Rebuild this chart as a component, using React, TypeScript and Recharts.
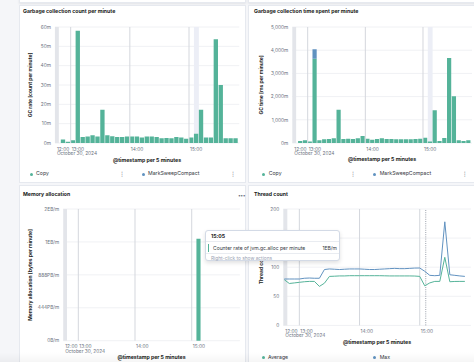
import React from "react";
import { BarChart, Bar, LineChart, Line, XAxis, YAxis, CartesianGrid, ReferenceArea, ReferenceLine } from "recharts";

// 5 minute buckets, 12:45 .. 15:45
const TIMES = [
  "12:45", "12:50", "12:55", "13:00", "13:05", "13:10", "13:15", "13:20", "13:25", "13:30",
  "13:35", "13:40", "13:45", "13:50", "13:55", "14:00", "14:05", "14:10", "14:15", "14:20",
  "14:25", "14:30", "14:35", "14:40", "14:45", "14:50", "14:55", "15:00", "15:05", "15:10",
  "15:15", "15:20", "15:25", "15:30", "15:35", "15:40", "15:45",
];
const HOUR_TICKS = [45, 60, 120, 180];
const HOUR_LABELS = ["12:00", "13:00", "14:00", "15:00"];
const DATE_LABEL = "October 30, 2024";

const GC_COUNT_COPY = [
  null, 1.8, 0.6, 1.4, 58, 3.1, 3.4, 4, 3.4, 17.2,
  4, 3.5, 3.1, 3.1, 3.4, 3.4, 3.4, 2.8, 3.4, 3.4,
  3.1, 2.4, 2.6, 2.4, 3.1, 2.8, 2.2, 2.8, 4.8, 17.2,
  2.8, 2.8, 53.7, 30, 2.4, 2.4, 2.4,
];
const GC_COUNT_MSC = [
  null, 0, 0, 0, 0, 0, 0, 0, 0, 0,
  0, 0, 0, 0, 0, 0, 0, 0, 0, 0,
  0, 0, 0, 0, 0, 0, 0, 0, 0, 0,
  0, 0, 0, 0, 0, 0, 0,
];
const GC_COUNT_TICKS = [0, 10, 20, 30, 40, 50, 60];

const GC_TIME_COPY = [
  null, 90, 115, 70, 3630, 115, 160, 170, 200, 1437,
  170, 185, 170, 200, 300, 185, 145, 170, 200, 170,
  170, 160, 160, 160, 160, 170, 185, 230, 70, 1408,
  86, 215, 3665, 2010, 115, 86, 115,
];
const GC_TIME_MSC = [
  null, 0, 0, 0, 410, 0, 0, 0, 0, 0,
  0, 0, 0, 0, 0, 0, 0, 0, 0, 0,
  0, 0, 0, 0, 0, 0, 0, 0, 0, 0,
  0, 0, 0, 0, 0, 0, 0,
];
const GC_TIME_TICKS = [0, 1000, 2000, 3000, 4000, 5000];

const ALLOC = [
  null, 0, 0, 0, 0, 0, 0, 0, 0, 0,
  0, 0, 0, 0, 0, 0, 0, 0, 0, 0,
  0, 0, 0, 0, 0, 0, 0, 0, 1.55e18, 0,
  0, 0, 0, 0, 0, 0, 0,
];
const ALLOC_TICKS = [0, 5e17, 1e18, 1.5e18, 2e18];
const ALLOC_TICK_LABELS = ["0B/m", "444PB/m", "888PB/m", "1EB/m", "2EB/m"];

const THREAD_AVG = [
  78.5, 72, 73, 74, 75, 75.6, 75.6, 67, 72.5, 84.2,
  84.5, 85, 85, 85.4, 85.4, 85.4, 85.4, 85.4, 85.4, 85.4,
  85.2, 85, 85, 85, 85, 85, 84.8, 84.2, 68, 73,
  75.6, 75.6, 117, 75, 75.5, 75.6, 75.6,
];
const THREAD_MAX = [
  79.7, 79.7, 79.7, 79.7, 81, 81.4, 81, 81, 96, 97,
  96.5, 96, 96.5, 97, 97, 97, 96.5, 96, 96, 96.5,
  97, 97.5, 98, 97.5, 97.5, 98, 98.5, 98.6, 93, 86,
  85.4, 86, 178, 87, 86, 85, 84.2,
];
const THREAD_TICKS = [0, 50, 100, 150, 200];

const GREEN = "#54b399";
const BLUE = "#6092c0";
const FONT = "Inter, 'Noto Sans', sans-serif";
const TEXT = "#1a1c21";
const SUBDUED = "#69707d";
const X_DOMAIN = [44, 231];

const toMin = (t: string) => {
  const [h, m] = t.split(":").map(Number);
  return (h - 12) * 60 + m;
};

const countData = TIMES.map((t, i) => ({ x: toMin(t) + 2.5, copy: GC_COUNT_COPY[i], msc: GC_COUNT_MSC[i] }));
const timeData = TIMES.map((t, i) => ({ x: toMin(t) + 2.5, copy: GC_TIME_COPY[i], msc: GC_TIME_MSC[i] }));
const allocData = TIMES.map((t, i) => ({ x: toMin(t) + 2.5, alloc: ALLOC[i] }));
const threadData = TIMES.map((t, i) => ({ x: toMin(t), avg: THREAD_AVG[i], max: THREAD_MAX[i] }));

type Frame = { panelLeft: number; panelRight: number; plotLeft: number; plotRight: number; plotTop: number; plotBottom: number };

const P1: Frame = { panelLeft: 20, panelRight: 245, plotLeft: 54.9, plotRight: 239.3, plotTop: 27, plotBottom: 143 };
const P2: Frame = { panelLeft: 248, panelRight: 474, plotLeft: 292.3, plotRight: 472, plotTop: 26.7, plotBottom: 142.7 };
const P3: Frame = { panelLeft: 20, panelRight: 245, plotLeft: 63.2, plotRight: 239.9, plotTop: 209.3, plotBottom: 341 };
const P4: Frame = { panelLeft: 248, panelRight: 474, plotLeft: 283.3, plotRight: 470.9, plotTop: 209.3, plotBottom: 325.7 };

function geom(f: Frame) {
  const top = f.plotTop - 6;
  return {
    left: f.panelLeft,
    top,
    width: f.panelRight - f.panelLeft,
    height: f.plotBottom + 14 - top,
    margin: { top: 6, right: f.panelRight - f.plotRight, bottom: 0, left: 0 },
    yWidth: f.plotLeft - f.panelLeft,
    barSize: ((f.plotRight - f.plotLeft) / (X_DOMAIN[1] - X_DOMAIN[0])) * 5 - 0.6,
  };
}

const TimeTick = (props: any) => {
  const { x, y, payload } = props;
  const i = HOUR_TICKS.indexOf(payload.value);
  return (
    <g>
      <text x={x + 1} y={y + 5.5} fontSize={4.8} fill={SUBDUED} fontFamily={FONT}>{HOUR_LABELS[i]}</text>
      {i === 0 && <text x={x + 1} y={y + 10} fontSize={4.8} fill={SUBDUED} fontFamily={FONT}>{DATE_LABEL}</text>}
    </g>
  );
};

const yTick = { fontSize: 4.8, fill: SUBDUED, fontFamily: FONT };

function TimeBackdrop() {
  return [
    <ReferenceArea key="p" x1={44} x2={48} fill="#e3e5ea" fillOpacity={1} stroke="none" />,
    ...[60, 120, 180].map(v => <ReferenceLine key={v} x={v} stroke="#d4d7dd" strokeWidth={1} />),
  ];
}

function Txt({ x, y, children, anchor = "start", style }: any) {
  const tr = anchor === "middle" ? "translate(-50%,-50%)" : anchor === "end" ? "translate(-100%,-50%)" : "translateY(-50%)";
  return (
    <div style={{ position: "absolute", left: x, top: y, transform: tr, whiteSpace: "nowrap", lineHeight: 1, fontFamily: FONT, ...style }}>
      {children}
    </div>
  );
}

function YTitle({ x, y, children }: any) {
  return (
    <div style={{ position: "absolute", left: x, top: y, transform: "translate(-50%,-50%) rotate(-90deg)", whiteSpace: "nowrap", lineHeight: 1, fontFamily: FONT, fontSize: 5, fontWeight: 700, color: TEXT }}>
      {children}
    </div>
  );
}

function LegendItem({ x, y, color, name }: any) {
  return (
    <>
      <div style={{ position: "absolute", left: x - 1.5, top: y - 1.5, width: 3, height: 3, borderRadius: 2, background: color }} />
      <Txt x={x + 5} y={y} style={{ fontSize: 5.2, color: "#343741" }}>{name}</Txt>
    </>
  );
}

const Kebab = ({ x, y }: any) => <Txt x={x} y={y} anchor="middle" style={{ fontSize: 6, color: "#343741", fontFamily: "DejaVu Sans" }}>⋮</Txt>;

const titleStyle = { fontSize: 5.2, fontWeight: 700, color: TEXT };
const axisTitleStyle = { fontSize: 5.2, fontWeight: 700, color: TEXT };

export default function App() {
  const g1 = geom(P1), g2 = geom(P2), g3 = geom(P3), g4 = geom(P4);
  const panel = (l: number, t: number, r: number, b: number) => ({
    position: "absolute" as const, left: l, top: t, width: r - l, height: b - t, background: "#fff", border: "1px solid #e6e9ef", boxSizing: "border-box" as const,
  });

  return (
    <div style={{ position: "fixed", left: 0, top: 0, width: 474, height: 362, overflow: "hidden", background: "#f5f6f9", fontFamily: FONT }}>
      {/* previous row */}
      <div style={{ ...panel(19, -20, 246, 3), boxShadow: "0 1px 2px rgba(0,0,0,0.08)" }} />
      <div style={{ ...panel(248, -20, 480, 3), boxShadow: "0 1px 2px rgba(0,0,0,0.08)" }} />
      <div style={panel(19, 5, 246, 183)} />
      <div style={panel(248, 5, 480, 183)} />
      <div style={panel(19, 185, 246, 380)} />
      <div style={panel(248, 185, 480, 380)} />

      {/* titles */}
      <Txt x={23} y={12} style={titleStyle}>Garbage collection count per minute</Txt>
      <Txt x={254} y={12} style={titleStyle}>Garbage collection time spent per minute</Txt>
      <Txt x={23} y={195} style={titleStyle}>Memory allocation</Txt>
      <Txt x={254} y={195} style={titleStyle}>Thread count</Txt>
      <Txt x={241.5} y={195} anchor="middle" style={{ fontSize: 5, color: "#69707d", letterSpacing: -0.5 }}>•••</Txt>

      {/* chart 1 */}
      <div style={{ position: "absolute", left: g1.left, top: g1.top }}>
        <BarChart width={g1.width} height={g1.height} data={countData} margin={g1.margin}>
          <CartesianGrid vertical={false} stroke="#f0f1f4" />
          {TimeBackdrop()}
          <ReferenceArea x1={185} x2={190} fill="#eceef6" fillOpacity={1} stroke="none" />
          <XAxis type="number" dataKey="x" domain={X_DOMAIN} ticks={HOUR_TICKS} interval={0} height={14} tickSize={0} axisLine={false} tickLine={false} tick={TimeTick} allowDataOverflow />
          <YAxis type="number" domain={[0, 60]} ticks={GC_COUNT_TICKS} interval={0} width={g1.yWidth} tickSize={0} tickMargin={4} axisLine={false} tickLine={false} tick={yTick} tickFormatter={(v: number) => `${v}m`} />
          <Bar dataKey="copy" stackId="a" fill={GREEN} barSize={g1.barSize} isAnimationActive={false} />
          <Bar dataKey="msc" stackId="a" fill={BLUE} barSize={g1.barSize} isAnimationActive={false} />
        </BarChart>
      </div>
      <YTitle x={30} y={85}>GC rate [count per minute]</YTitle>
      <Txt x={147} y={160.7} anchor="middle" style={axisTitleStyle}>@timestamp per 5 minutes</Txt>
      <LegendItem x={31} y={174} color={GREEN} name="Copy" />
      <Kebab x={122} y={174} />
      <LegendItem x={143} y={174} color={BLUE} name="MarkSweepCompact" />
      <Kebab x={233} y={174} />

      {/* chart 2 */}
      <div style={{ position: "absolute", left: g2.left, top: g2.top }}>
        <BarChart width={g2.width} height={g2.height} data={timeData} margin={g2.margin}>
          <CartesianGrid vertical={false} stroke="#f0f1f4" />
          {TimeBackdrop()}
          <ReferenceArea x1={185} x2={190} fill="#eceef6" fillOpacity={1} stroke="none" />
          <XAxis type="number" dataKey="x" domain={X_DOMAIN} ticks={HOUR_TICKS} interval={0} height={14} tickSize={0} axisLine={false} tickLine={false} tick={TimeTick} allowDataOverflow />
          <YAxis type="number" domain={[0, 5000]} ticks={GC_TIME_TICKS} interval={0} width={g2.yWidth} tickSize={0} tickMargin={4} axisLine={false} tickLine={false} tick={yTick} tickFormatter={(v: number) => `${v.toLocaleString("en-US")}m`} />
          <Bar dataKey="copy" stackId="a" fill={GREEN} barSize={g2.barSize} isAnimationActive={false} />
          <Bar dataKey="msc" stackId="a" fill={BLUE} barSize={g2.barSize} isAnimationActive={false} />
        </BarChart>
      </div>
      <YTitle x={261} y={84.7}>GC time [ms per minute]</YTitle>
      <Txt x={382} y={160} anchor="middle" style={axisTitleStyle}>@timestamp per 5 minutes</Txt>
      <LegendItem x={263.7} y={174.3} color={GREEN} name="Copy" />
      <Kebab x={353} y={174.3} />
      <LegendItem x={374.7} y={174.3} color={BLUE} name="MarkSweepCompact" />
      <Kebab x={464.7} y={174.3} />

      {/* chart 3 */}
      <div style={{ position: "absolute", left: g3.left, top: g3.top }}>
        <BarChart width={g3.width} height={g3.height} data={allocData} margin={g3.margin}>
          <CartesianGrid vertical={false} stroke="#f0f1f4" />
          {TimeBackdrop()}
          <XAxis type="number" dataKey="x" domain={X_DOMAIN} ticks={HOUR_TICKS} interval={0} height={14} tickSize={0} axisLine={false} tickLine={false} tick={TimeTick} allowDataOverflow />
          <YAxis type="number" domain={[0, 2e18]} ticks={ALLOC_TICKS} interval={0} width={g3.yWidth} tickSize={0} tickMargin={4} axisLine={false} tickLine={false} tick={yTick} tickFormatter={(v: number) => ALLOC_TICK_LABELS[ALLOC_TICKS.indexOf(v)]} />
          <Bar dataKey="alloc" fill={GREEN} barSize={g3.barSize} isAnimationActive={false} />
        </BarChart>
      </div>
      <YTitle x={30} y={275}>Memory allocation [bytes per minute]</YTitle>
      <Txt x={151.5} y={358.3} anchor="middle" style={axisTitleStyle}>@timestamp per 5 minutes</Txt>

      {/* chart 4 */}
      <div style={{ position: "absolute", left: g4.left, top: g4.top }}>
        <LineChart width={g4.width} height={g4.height} data={threadData} margin={g4.margin}>
          <CartesianGrid vertical={false} stroke="#f0f1f4" />
          {TimeBackdrop()}
          <ReferenceLine x={186} stroke="#9aa0ab" strokeDasharray="1 1.2" />
          <XAxis type="number" dataKey="x" domain={X_DOMAIN} ticks={HOUR_TICKS} interval={0} height={14} tickSize={0} axisLine={false} tickLine={false} tick={TimeTick} allowDataOverflow />
          <YAxis type="number" domain={[0, 200]} ticks={THREAD_TICKS} interval={0} width={g4.yWidth} tickSize={0} tickMargin={4} axisLine={false} tickLine={false} tick={yTick} />
          <Line dataKey="avg" type="linear" stroke={GREEN} strokeWidth={1} dot={false} isAnimationActive={false} />
          <Line dataKey="max" type="linear" stroke={BLUE} strokeWidth={1} dot={false} isAnimationActive={false} />
        </LineChart>
      </div>
      <YTitle x={261} y={267.5}>Thread count</YTitle>
      <Txt x={377} y={343.3} anchor="middle" style={axisTitleStyle}>@timestamp per 5 minutes</Txt>
      <LegendItem x={263} y={357.7} color={GREEN} name="Average" />
      <LegendItem x={374.7} y={357.7} color={BLUE} name="Max" />

      {/* hover tooltip on memory allocation */}
      <div style={{ position: "absolute", left: 205, top: 230, width: 135, height: 31, background: "#fff", border: "1px solid #d3dae6", borderRadius: 3, boxShadow: "0 2px 4px rgba(0,0,0,0.12)", boxSizing: "border-box", fontFamily: FONT }}>
        <Txt x={5} y={5.5} style={{ fontSize: 5.2, fontWeight: 700, color: TEXT }}>15:05</Txt>
        <div style={{ position: "absolute", left: 0, right: 0, top: 10, borderTop: "1px solid #e9ecf1" }} />
        <div style={{ position: "absolute", left: 1.5, top: 12.5, width: 1.5, height: 8, background: GREEN }} />
        <Txt x={7} y={16.5} style={{ fontSize: 5, color: "#343741" }}>Counter rate of jvm.gc.alloc per minute</Txt>
        <Txt x={131} y={16.5} anchor="end" style={{ fontSize: 5, color: "#343741" }}>1EB/m</Txt>
        <div style={{ position: "absolute", left: 0, right: 0, top: 22, borderTop: "1px solid #e9ecf1" }} />
        <Txt x={5} y={26.5} style={{ fontSize: 4.8, color: "#98a2b3" }}>Right-click to show actions</Txt>
      </div>

      <div style={{ position: "absolute", left: 0, top: 352, width: 474, height: 10, background: "linear-gradient(rgba(0,0,0,0), rgba(0,0,0,0.04))" }} />
    </div>
  );
}
